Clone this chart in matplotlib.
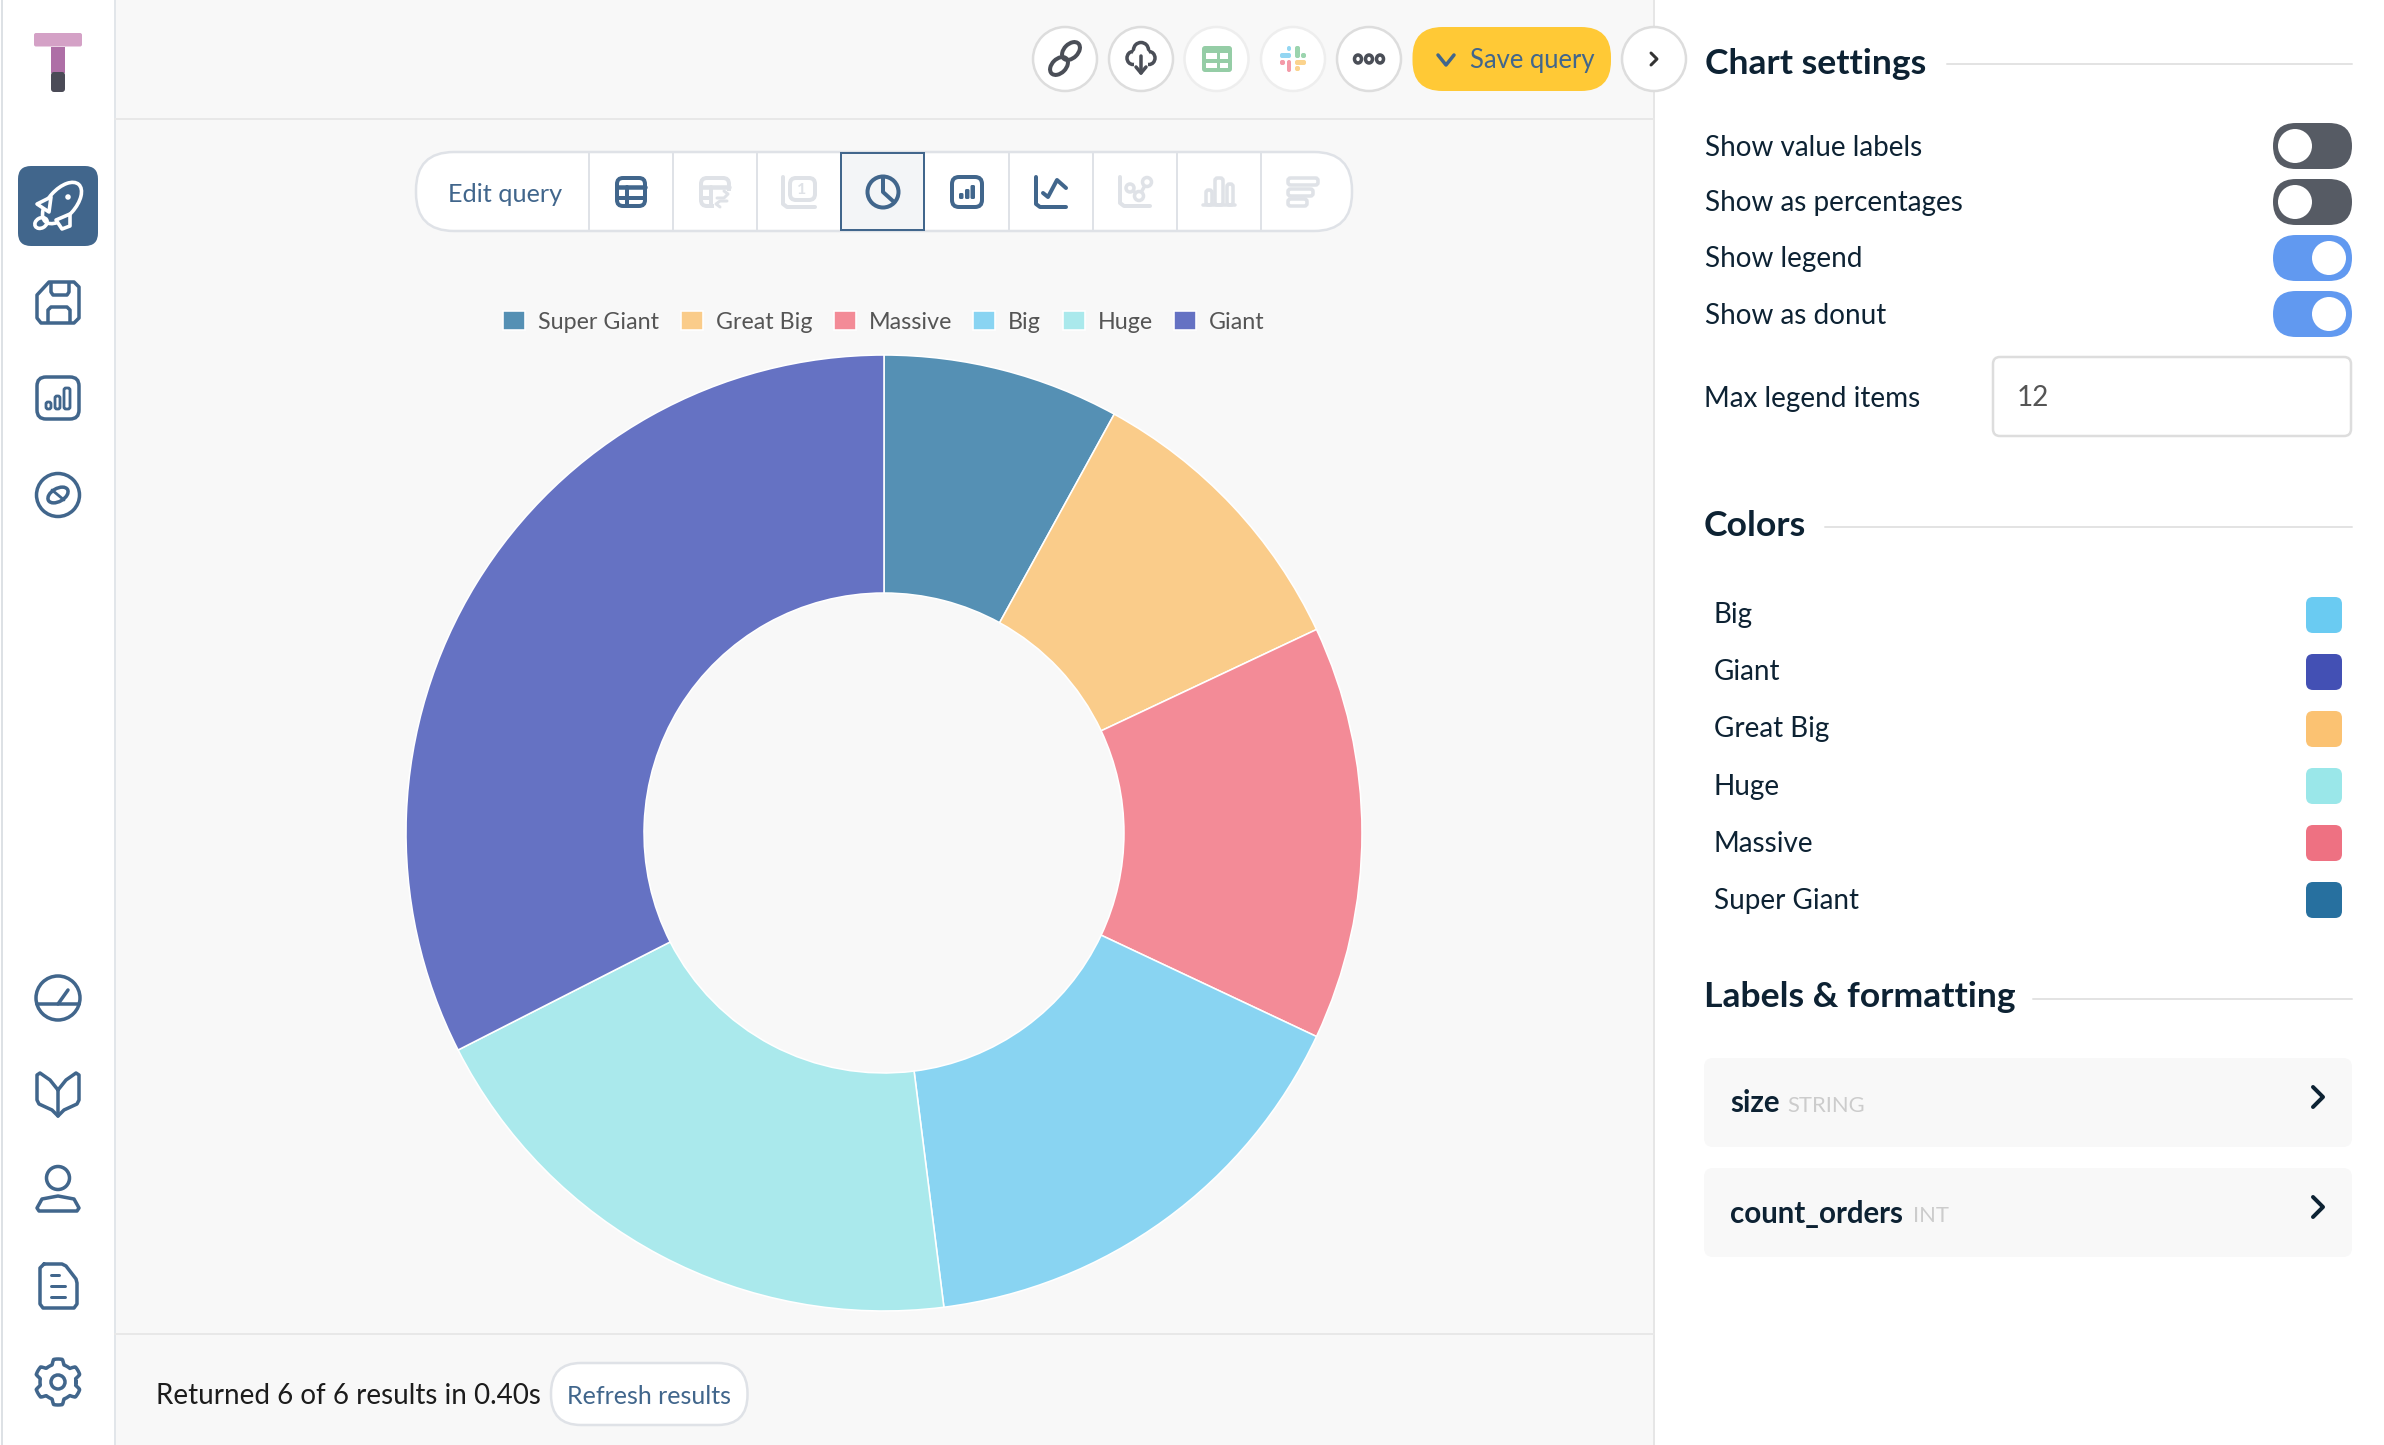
import numpy as np
import matplotlib
matplotlib.use("Agg")
import matplotlib.pyplot as plt
from matplotlib.patches import Circle, Ellipse, FancyBboxPatch, Polygon, Rectangle

W, H = 2384, 1445
FONT = "Lato"
INK = "#0D2233"
BLUE = "#41668C"
FAINT = "#DFE2E7"
LINE = "#E3E3E3"

# donut
sizes = ["Super Giant", "Great Big", "Massive", "Big", "Huge", "Giant"]
count_orders = [8.0, 10.0, 14.0, 16.0, 19.5, 32.5]
slice_colors = ["#5590B4", "#FACC8A", "#F38B97", "#89D4F2", "#AAE9EC", "#6572C3"]

# side panel
toggle_labels = ["Show value labels", "Show as percentages", "Show legend", "Show as donut"]
toggle_states = [False, False, True, True]
color_labels = ["Big", "Giant", "Great Big", "Huge", "Massive", "Super Giant"]
color_swatches = ["#6ACBF2", "#4350B4", "#FBC272", "#9AE7E9", "#EE7182", "#27709F"]
column_names = ["size", "count_orders"]
column_types = ["STRING", "INT"]

plt.rcParams["font.family"] = [FONT, "DejaVu Sans"]
fig = plt.figure(figsize=(W / 100, H / 100), dpi=100, facecolor="#F8F8F8")
ax = fig.add_axes([0, 0, 1, 1])
ax.set_xlim(0, W)
ax.set_ylim(H, 0)
ax.axis("off")


def px(v):
    return v * 0.72


def rrect(x0, y0, x1, y1, r, fc="none", ec="none", lw=2, z=2):
    p = FancyBboxPatch((x0 + r, y0 + r), x1 - x0 - 2 * r, y1 - y0 - 2 * r,
                       boxstyle="round,pad=%f,rounding_size=%f" % (r, r),
                       fc=fc, ec=ec, lw=px(lw), zorder=z)
    ax.add_patch(p)
    return p


def line(xs, ys, c=BLUE, lw=3.5, z=4):
    ax.plot(xs, ys, color=c, lw=px(lw), solid_capstyle="round", solid_joinstyle="round", zorder=z)


def circ(x, y, r, fc="none", ec=BLUE, lw=3.5, z=4):
    ax.add_patch(Circle((x, y), r, fc=fc, ec=ec, lw=px(lw), zorder=z))


def oval(x, y, w, h, angle=0, fc="none", ec=BLUE, lw=3.5, z=4):
    ax.add_patch(Ellipse((x, y), w, h, angle=angle, fc=fc, ec=ec, lw=px(lw), zorder=z))


def poly(pts, fc="none", ec=BLUE, lw=3.5, z=4):
    ax.add_patch(Polygon(pts, closed=True, fc=fc, ec=ec, lw=px(lw), joinstyle="round", zorder=z))


def text(x, y, s, size, c=INK, weight="normal", ha="left"):
    ax.text(x, y - 1, s, fontsize=px(size), color=c, fontweight=weight, ha=ha, va="center_baseline", zorder=6)


def section(x, y, s, line_from, line_y):
    text(x, y, s, 35.5, weight="bold")
    line([line_from, 2352], [line_y, line_y], c=LINE, lw=2, z=3)


# main regions
ax.add_patch(Rectangle((0, 0), 115, H, fc="white", ec="none", zorder=1))
ax.add_patch(Rectangle((1654, 0), W - 1654, H, fc="white", ec="none", zorder=1))
line([1.5, 1.5], [0, H], c="#DDE1E5", lw=2, z=2)
line([115, 115], [0, H], c="#E2E6EA", lw=2, z=2)
line([1654, 1654], [0, H], c="#E6E6E6", lw=2, z=2)
line([115, 1654], [118.5, 118.5], c="#E8E8E8", lw=2, z=2)
line([115, 1654], [1334, 1334], c="#E8E8E8", lw=2, z=2)

# logo
rrect(34, 33, 82, 46.5, 2, fc="#D4A1C6")
ax.add_patch(Rectangle((51, 46.5), 14, 26, fc="#AE6FA6", ec="none", zorder=2))
rrect(51, 72, 65, 92, 3, fc="#4B4B57")

# sidebar top icons
rrect(18, 166, 98, 246, 13, fc=BLUE)
oval(62, 203, 27, 50, angle=42, ec="white", fc=BLUE, lw=3.6)
poly([(51, 197), (37, 204), (49, 212)], ec="white", fc=BLUE, lw=3.6)
poly([(70, 214), (70, 226), (62, 229), (56, 220)], ec="white", fc=BLUE, lw=3.6)
oval(41, 223, 13, 10, angle=-30, ec="white", lw=3.6)
circ(68, 197, 1.5, ec="white", lw=2.5)

poly([(37, 295), (49, 282), (74, 282), (79, 287), (79, 318), (74, 323), (41, 323), (37, 318)])
line([51, 51, 53, 67, 69, 69], [283, 292, 295, 295, 292, 283])
line([48, 48, 51, 67, 70, 70], [322, 310, 307, 307, 310, 322])

rrect(37, 377, 79, 419, 9, ec=BLUE, lw=3.5, z=4)
rrect(46, 402, 51, 409, 2, ec=BLUE, lw=2.8, z=4)
rrect(55, 396, 60, 409, 2, ec=BLUE, lw=2.8, z=4)
rrect(64, 388, 70, 409, 2, ec=BLUE, lw=2.8, z=4)

circ(58, 495, 21.5)
oval(58, 495, 22, 13, angle=-30)
line([52, 64], [490, 500], lw=2.8)

# sidebar bottom icons
circ(58, 998, 22)
line([37, 79], [1004, 1004])
line([58, 68], [1004, 990])

line([58, 50, 40, 37, 37, 39, 52, 58, 64, 77, 79, 79, 76, 66, 58],
     [1090, 1080, 1073, 1075, 1100, 1104, 1110, 1116, 1110, 1104, 1100, 1075, 1073, 1080, 1090])
line([58, 58], [1090, 1116])

circ(58, 1178, 11.5)
poly([(37, 1208), (42, 1199), (58, 1196), (74, 1199), (79, 1208), (77, 1211), (39, 1211)])

line([44, 62, 66, 76, 77, 77, 74, 43, 40, 40, 44],
     [1264, 1264, 1266, 1279, 1283, 1304, 1308, 1308, 1304, 1268, 1264])
line([51, 59], [1275, 1275], lw=3)
line([51, 65], [1286, 1286], lw=3)
line([51, 65], [1297, 1297], lw=3)

# gear outline, center of the settings icon
t = np.linspace(0, 2 * np.pi, 200)
gear_r = 20.5 + 2.5 * np.clip(2.5 * np.cos(6 * (t - np.pi / 2)), -1, 1)
ax.plot(58 + gear_r * np.cos(t), 1382 + gear_r * np.sin(t), color=BLUE, lw=px(3.5), zorder=4)
circ(58, 1382, 7)

# top action buttons
for bx, border in zip([1065, 1141, 1216.5, 1293, 1369], ["#DDD", "#DDD", "#EEE", "#EEE", "#DDD"]):
    circ(bx, 59, 32, fc="white", ec=border, lw=2.5, z=3)
ICON = "#4A4E57"
oval(1071, 51, 21, 14, angle=-45, ec=ICON, lw=4)
oval(1059, 66, 21, 14, angle=-45, ec=ICON, lw=4)
# cloud with an arrow
oval(1141, 50, 15, 15, ec=ICON, lw=3.5)
oval(1133, 58, 12, 13, ec=ICON, lw=3.5)
oval(1149, 58, 12, 13, ec=ICON, lw=3.5)
ax.add_patch(Circle((1141, 57), 9, fc="white", ec="none", zorder=4.5))
ax.add_patch(Rectangle((1134, 63), 14, 10, fc="white", ec="none", zorder=4.5))
line([1141, 1141], [56, 73], c=ICON, lw=3.5, z=5)
line([1136, 1141, 1146], [67, 73, 67], c=ICON, lw=3.5, z=5)
# sheets
rrect(1202, 46, 1232, 72, 3, fc="#95CDA6", z=4)
for sx, sy, sw, sh in [(1206, 53, 11, 6, ), (1220, 53, 8, 6), (1206, 63, 11, 5), (1220, 63, 8, 5)]:
    ax.add_patch(Rectangle((sx, sy), sw, sh, fc="white", ec="none", zorder=5))
# slack
for sx, sy, sw, sh, c in [(1280, 53, 11, 5, "#93D6F2"), (1287, 46, 4, 5, "#93D6F2"),
                          (1295, 46, 5, 12, "#9BD4AE"), (1301, 53, 5, 5, "#9BD4AE"),
                          (1295, 60, 11, 5, "#FBD38D"), (1295, 66, 5, 5, "#FBD38D"),
                          (1287, 60, 4, 12, "#F49AA8"), (1280, 60, 5, 5, "#F49AA8")]:
    rrect(sx, sy, sx + sw, sy + sh, 2, fc=c, z=5)
# dots
for dx in [1358, 1369, 1380]:
    oval(dx, 59, 7, 8, ec=ICON, lw=3.5)

# save button
rrect(1412.5, 27, 1611, 91, 30, fc="#FFC936", z=3)
line([1438, 1446, 1454], [55, 65, 55], c=BLUE, lw=3.5, z=5)
text(1470, 59, "Save query", 25.6, c=BLUE)

# collapse button
circ(1654, 59, 32, fc="white", ec="#DDD", lw=2.5, z=3)
line([1651, 1657, 1651], [53, 59, 65], c="#333", lw=3, z=5)

# toolbar
rrect(416, 152, 1352, 231, 38, fc="white", ec=FAINT, lw=2.5)
for dx in [589, 672.5, 757, 1008.5, 1093, 1177, 1261]:
    line([dx, dx], [153, 230], c=FAINT, lw=2, z=3)
ax.add_patch(Rectangle((841, 153), 83, 77, fc="#F3F5F7", ec=BLUE, lw=px(2), zorder=3))
text(505.5, 193, "Edit query", 25.3, c=BLUE, ha="center")

# table
rrect(617, 178, 645, 206, 6, ec=BLUE, lw=4, z=4)
line([617, 645], [187, 187], lw=4.5)
line([617, 645], [198, 198], lw=4)
line([627, 627], [187, 206], lw=4)
# table, refreshing (disabled)
rrect(701, 178, 729, 206, 6, ec=FAINT, lw=4, z=4)
line([701, 729], [187, 187], c=FAINT, lw=4.5)
line([701, 711], [198, 198], c=FAINT, lw=4)
line([711, 711], [187, 206], c=FAINT, lw=4)
ax.add_patch(Rectangle((714, 191), 18, 18, fc="white", ec="none", zorder=4.5))
line([717, 724, 728, 724], [198, 198, 194, 191], c=FAINT, lw=3, z=5)
line([727, 720, 716, 720], [201, 201, 204, 207], c=FAINT, lw=3, z=5)
# single value (disabled)
rrect(790, 178, 815, 200, 6, ec=FAINT, lw=4, z=4)
line([783, 783, 787, 815], [177, 204, 207, 207], c=FAINT, lw=4)
text(802, 190, "1", 16, c=FAINT, ha="center", weight="bold")
# pie
circ(883, 192, 15.5, lw=4)
line([883, 883, 894], [177, 192, 202], lw=4)
# bar in a box
rrect(952, 177, 982, 207, 7, ec=BLUE, lw=4, z=4)
for bx0, by0 in [(959, 193), (965, 189), (970.5, 185)]:
    rrect(bx0, by0, bx0 + 4.5, 199, 1.5, fc=BLUE, z=4)
# line chart
line([1036, 1036, 1040, 1066], [177, 204, 207, 207], lw=4)
line([1043, 1048, 1057, 1066], [193, 197, 180, 188], lw=4)
# scatter (disabled)
line([1120, 1120, 1124, 1150], [177, 203, 206, 206], c=FAINT, lw=4)
line([1130, 1139, 1147], [188, 196, 182], c=FAINT, lw=3.5)
circ(1130, 188, 4, fc="white", ec=FAINT, z=5)
circ(1147, 182, 4.5, fc="white", ec=FAINT, z=5)
circ(1139, 196, 4.5, fc="white", ec=FAINT, z=5)
# bars (disabled)
line([1203, 1235], [205, 205], c=FAINT, lw=3.5)
for bx0, bx1, by0 in [(1206, 1212, 190), (1215, 1223, 178), (1227, 1233, 184)]:
    rrect(bx0, by0, bx1, 205, 2.5, ec=FAINT, lw=3.5, z=4)
# horizontal bars (disabled)
for bx1, by0 in [(1318, 178), (1313, 189), (1307, 199)]:
    rrect(1288, by0, bx1, by0 + 7, 2.5, ec=FAINT, lw=3.5, z=4)

# donut chart, centered at (884, 833) with a 478 px radius
R = 478
ax_pie = fig.add_axes([(884 - R) / W, 1 - (833 + R) / H, 2 * R / W, 2 * R / H])
wedges, _ = ax_pie.pie(count_orders, colors=slice_colors, startangle=90, counterclock=False, radius=1,
                       wedgeprops=dict(width=0.498, edgecolor="white", linewidth=px(1.6)))
ax_pie.set_xlim(-1, 1)
ax_pie.set_ylim(-1, 1)
fig.legend(wedges, sizes, loc="center", bbox_to_anchor=(884 / W, 1 - 322 / H), ncol=6, frameon=False,
           fontsize=px(23.3), labelcolor="#555555", handlelength=0.95, handleheight=0.9, handletextpad=0.55,
           columnspacing=0.92, borderpad=0, borderaxespad=0)

# footer
text(156, 1394, "Returned 6 of 6 results in 0.40s", 27.7, c="#1C1C1C")
rrect(551, 1363, 747.5, 1425, 30, fc="white", ec=FAINT, lw=2.5)
text(649, 1395, "Refresh results", 25, c=BLUE, ha="center")

# chart settings
section(1705, 62, "Chart settings", 1947, 64)
for label, state, y in zip(toggle_labels, toggle_states, [146, 202, 258, 314]):
    text(1705, y, label, 27.9)
    rrect(2273, y - 23, 2352, y + 23, 23, fc="#6199F0" if state else "#565B64", z=3)
    oval(2329 if state else 2295, y, 34, 34, fc="white", ec="none", lw=0)
text(1704, 397, "Max legend items", 27.9)
rrect(1993, 357, 2351, 436, 7, fc="white", ec="#DDDDDD", lw=2.5)
text(2017, 397, "12", 27.9, c="#555555")

# colors
section(1704, 524, "Colors", 1825, 527)
for label, swatch, y in zip(color_labels, color_swatches, [614, 671, 728, 785, 842, 899]):
    text(1713.5, y, label, 27.9)
    rrect(2306, y - 17, 2342, y + 19, 7, fc=swatch, z=3)

# labels and formatting
section(1704, 995, "Labels & formatting", 2033, 999)
for name, kind, y0, type_x in zip(column_names, column_types, [1058, 1168], [1787, 1913]):
    rrect(1704, y0, 2352, y0 + 89, 9, fc="#F8F8F8", z=2)
    text(1730, y0 + 44, name, 29.5, weight="bold")
    text(type_x, y0 + 47, kind, 22, c="#CCCCCC")
    line([2313, 2323, 2313], [y0 + 29, y0 + 39, y0 + 49], c=INK, lw=4, z=5)

fig.savefig("out.png", dpi=100, facecolor=fig.get_facecolor())
